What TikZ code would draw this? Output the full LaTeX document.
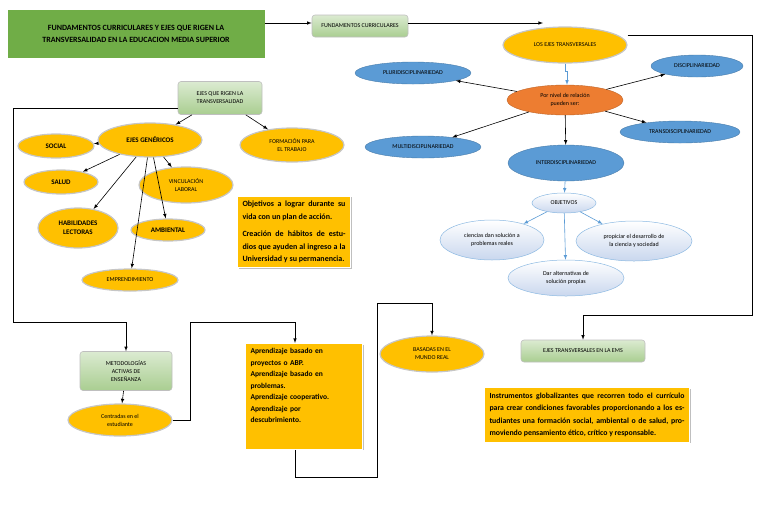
\documentclass[tikz,border=0pt]{standalone}
\usepackage{fontspec}
\setmainfont{Carlito}
\usetikzlibrary{shapes.geometric,shadows}
\definecolor{gold}{HTML}{FFC000}
\definecolor{leaf}{HTML}{70AD47}
\definecolor{sky}{HTML}{5B9BD5}
\definecolor{pale}{HTML}{C9D7EE}
\definecolor{coral}{HTML}{ED7D31}
\begin{document}
\begin{tikzpicture}[x=1pt,y=-1pt,
  every node/.style={font=\fontsize{6}{8}\selectfont, align=center, inner sep=1pt},
  oval/.style={ellipse, minimum width=#1, fill=gold, draw=gray!45, line width=1.2pt},
  blueoval/.style={ellipse, minimum width=#1, fill=sky, draw=sky!80!black, line width=.4pt},
  paleoval/.style={ellipse, minimum width=#1, top color=white, bottom color=pale, draw=sky!70, line width=.5pt},
  greenbox/.style={rectangle, rounded corners=3pt, top color=leaf!25, bottom color=leaf!60, draw=gray!50, line width=.6pt},
  notebox/.style={rectangle, fill=gold, draw=white, line width=1pt, drop shadow={shadow xshift=1pt, shadow yshift=-1pt}, inner sep=5pt, align=justify, font=\fontsize{7.5}{12}\selectfont\bfseries},
  arr/.style={-latex, line width=.6pt},
  barr/.style={-latex, sky, line width=.6pt}]
  \useasboundingbox (0,0) rectangle (768,523);
  % title and top row
  \node[fill=leaf, minimum width=257, minimum height=48, font=\fontsize{8}{12}\selectfont\bfseries] (title) at (136,34)
    {FUNDAMENTOS CURRICULARES Y EJES QUE RIGEN LA\\TRANSVERSALIDAD EN LA EDUCACION MEDIA SUPERIOR};
  \node[greenbox, minimum width=96, minimum height=22] (fund) at (360,26) {FUNDAMENTOS CURRICULARES};
  \node[oval=124, minimum height=36] (ejes) at (565,45) {LOS EJES TRANSVERSALES};
  \coordinate (fundend) at (543,23);
  \draw[arr] (title.east |- 0,23) -- (fund.west |- 0,23);
  \draw[arr] (fund.east |- 0,23) -- (fundend);
  % kinds of relation
  \node[ellipse, minimum width=116, minimum height=30, fill=coral, draw=coral!80!black] (nivel) at (565,100) {Por nivel de relación\\pueden ser:};
  \node[blueoval=116, minimum height=22] (pluri) at (413,73) {PLURIDISCIPLINARIEDAD};
  \node[blueoval=92, minimum height=22] (disc) at (697,66) {DISCIPLINARIEDAD};
  \node[blueoval=120, minimum height=22] (trans) at (680,132) {TRANSDISCIPLINARIEDAD};
  \node[blueoval=116, minimum height=22] (multi) at (423,147) {MULTIDISCIPLINARIEDAD};
  \node[blueoval=116, minimum height=36] (inter) at (566,163) {INTERDISCIPLINARIEDAD};
  \draw[barr] (ejes.south) -- ++(0,8) -- ++(2,0) -- (nivel.north -| 567,0);
  \draw[arr] (nivel) -- (pluri);
  \draw[arr] (nivel) -- (disc);
  \draw[arr] (nivel) -- (trans);
  \draw[arr] (nivel) -- (multi);
  \draw[arr] (nivel) -- (inter);
  % objectives
  \node[paleoval=64, minimum height=20] (obj) at (564,203) {OBJETIVOS};
  \node[paleoval=104, minimum height=40] (ciencias) at (492,240) {ciencias dan solución a\\problemas reales};
  \node[paleoval=116, minimum height=40] (propiciar) at (634,241) {propiciar el desarrollo de\\la ciencia y sociedad};
  \node[paleoval=116, minimum height=36] (dar) at (566,278) {Dar alternativas de\\solución propias};
  \draw[barr] (inter) -- (obj);
  \draw[barr] (obj) -- (ciencias);
  \draw[barr] (obj) -- (propiciar);
  \draw[barr] (obj) -- (dar);
  % right connector to EMS
  \node[greenbox, minimum width=124, minimum height=22] (ems) at (583,351) {EJES TRANSVERSALES EN LA EMS};
  \draw[arr] (ejes.east |- 0,35) -- (752,35) -- (752,315) -- (ems.north |- 0,315) -- (ems.north);
  \node[notebox, text width=195, font=\fontsize{7.8}{12.5}\selectfont\bfseries] (instr) at (587,415) {Instrumentos globalizantes que recorren todo el currículo para crear condiciones favorables proporcionando a los estudiantes una formación social, ambiental o de salud, promoviendo pensamiento ético, crítico y responsable.};
  % generic axes
  \node[greenbox, minimum width=84, minimum height=33] (rigen) at (220,98) {EJES QUE RIGEN LA\\TRANSVERSALIDAD};
  \node[oval=104, minimum height=34, font=\fontsize{7}{8}\selectfont\bfseries] (gen) at (150,140) {EJES GENÉRICOS};
  \node[oval=104, minimum height=34] (formacion) at (292,145) {FORMACIÓN PARA\\EL TRABAJO};
  \node[oval=76, minimum height=24, font=\fontsize{7}{8}\selectfont\bfseries] (social) at (56,146) {SOCIAL};
  \node[oval=74, minimum height=24, font=\fontsize{7}{8}\selectfont\bfseries] (salud) at (61,182) {SALUD};
  \node[oval=94, minimum height=36] (vinc) at (186,185) {VINCULACIÓN\\LABORAL};
  \node[oval=80, minimum height=40, font=\fontsize{7}{9}\selectfont\bfseries] (habil) at (78,228) {HABILIDADES\\LECTORAS};
  \node[oval=74, minimum height=22, font=\fontsize{7}{8}\selectfont\bfseries] (amb) at (168,230) {AMBIENTAL};
  \node[oval=96, minimum height=22] (empre) at (130,280) {EMPRENDIMIENTO};
  \draw[arr] (rigen) -- (gen);
  \draw[arr] (rigen) -- (formacion);
  \draw[arr] (gen) -- (social);
  \draw[arr] (gen) -- (salud);
  \draw[arr] (gen) -- (vinc);
  \draw[arr] (gen) -- (habil);
  \draw[arr] (gen) -- (amb);
  \draw[arr] (gen) -- (empre);
  \node[notebox, text width=103, font=\fontsize{8}{12.5}\selectfont\bfseries] (logros) at (294,232) {Objetivos a lograr durante su vida con un plan de acción.\\[5pt]Creación de hábitos de estudios que ayuden al ingreso a la Universidad y su permanencia.};
  % methodologies
  \node[greenbox, minimum width=92, minimum height=39] (metod) at (126,371) {METODOLOGÍAS\\ACTIVAS DE\\ENSEÑANZA};
  \node[oval=104, minimum height=32] (centr) at (120,420) {Centradas en el\\estudiante};
  \node[notebox, text width=107, align=left, font=\fontsize{7.5}{11.5}\selectfont\bfseries, anchor=north west] (aprend) at (245,343) {Aprendizaje basado en\\proyectos o ABP.\\Aprendizaje basado en\\problemas.\\Aprendizaje cooperativo.\\Aprendizaje por\\descubrimiento.\\[10pt]\mbox{}};
  \node[oval=104, minimum height=36] (basadas) at (432,354) {BASADAS EN EL\\MUNDO REAL};
  \draw[arr] (rigen.west |- 0,108) -- (13,108) -- (13,322) -- (metod.north |- 0,322) -- (metod.north);
  \draw[arr] (metod) -- (centr);
  \draw[arr] (centr.east) -- (190,420) -- (190,322) -- (295,322) -- (aprend.north -| 295,0);
  \draw[arr] (aprend.south -| 295,0) -- (295,477) -- (377,477) -- (377,303) -- (432,303) -- (basadas.north);
\end{tikzpicture}
\end{document}
